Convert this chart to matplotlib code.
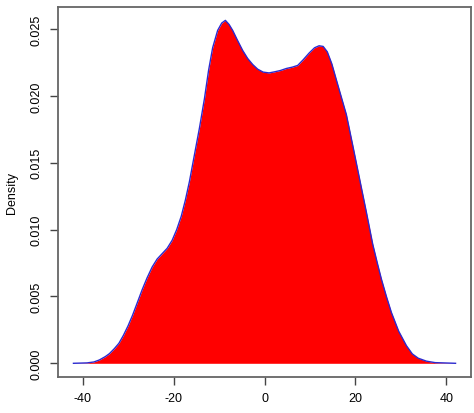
import numpy as np
import matplotlib
matplotlib.use("Agg")
import matplotlib.pyplot as plt

plt.rcParams['font.family'] = ['Liberation Sans', 'DejaVu Sans']

# density estimate
x = [-42.0, -39.0, -37.5, -36.3, -35.0, -34.1, -33.0, -32.0, -31.0, -30.0,
     -29.0, -28.0, -26.9, -25.8, -24.7, -23.6, -22.5, -21.4, -20.3, -19.3,
     -18.3, -17.4, -16.5, -15.4, -14.3, -13.2, -12.3, -11.4, -10.3, -9.4,
     -8.6, -7.8, -7.0, -6.0, -4.8, -3.7, -2.6, -1.5, -0.3, 1.0,
     2.2, 3.5, 4.8, 6.1, 7.3, 8.5, 9.8, 11.0, 12.0, 12.9,
     13.8, 14.8, 15.8, 16.9, 18.0, 19.4, 20.9, 22.4, 23.8, 24.8,
     25.7, 26.8, 27.9, 29.5, 31.2, 32.5, 33.8, 35.6, 37.5, 42.0]
y = [0.0, 0.00003, 0.0001, 0.00025, 0.0005, 0.00072, 0.0011, 0.0015, 0.0021, 0.0028,
     0.0036, 0.0045, 0.0055, 0.0064, 0.0072, 0.0078, 0.0082, 0.0086, 0.0092, 0.0100,
     0.0110, 0.0122, 0.0136, 0.0156, 0.0176, 0.0198, 0.0219, 0.0236, 0.0249, 0.02545,
     0.02565, 0.02535, 0.0249, 0.0242, 0.0234, 0.0228, 0.02235, 0.0220, 0.02178, 0.02172,
     0.0218, 0.0219, 0.02205, 0.02215, 0.02228, 0.0227, 0.0232, 0.0236, 0.02375, 0.0237,
     0.0233, 0.0224, 0.0212, 0.0199, 0.0186, 0.0163, 0.0138, 0.0113, 0.0089, 0.0075,
     0.0063, 0.0050, 0.0038, 0.0024, 0.00132, 0.0007, 0.00038, 0.00016, 0.00005, 0.0]

xticks = [-40, -20, 0, 20, 40]
yticks = [0.000, 0.005, 0.010, 0.015, 0.020, 0.025]

fig = plt.figure(figsize=(4.74, 4.14), dpi=100)
ax = fig.add_axes([58 / 474, 1 - 378 / 414, (471 - 58) / 474, (378 - 8) / 414])

ax.fill_between(x, y, 0, color='red', linewidth=0)
ax.plot(x, y, color='#2a2ad0', linewidth=1.0)

ax.set_xlim(-45.4, 45.4)
ax.set_ylim(-0.001025, 0.02665)
ax.set_xticks(xticks)
ax.set_xticklabels([str(t) for t in xticks])
ax.set_yticks(yticks)
ax.set_yticklabels(['%.3f' % t for t in yticks], rotation=90, va='center')
ax.tick_params(labelsize=9, length=6, color='#444444', width=1)
ax.tick_params(axis='x', pad=5)
ax.tick_params(axis='y', pad=5)
for s in ax.spines.values():
    s.set_color('#666666')
    s.set_linewidth(1.3)
ax.set_ylabel('Density', fontsize=9, labelpad=9)

fig.savefig('out.png', dpi=100)
